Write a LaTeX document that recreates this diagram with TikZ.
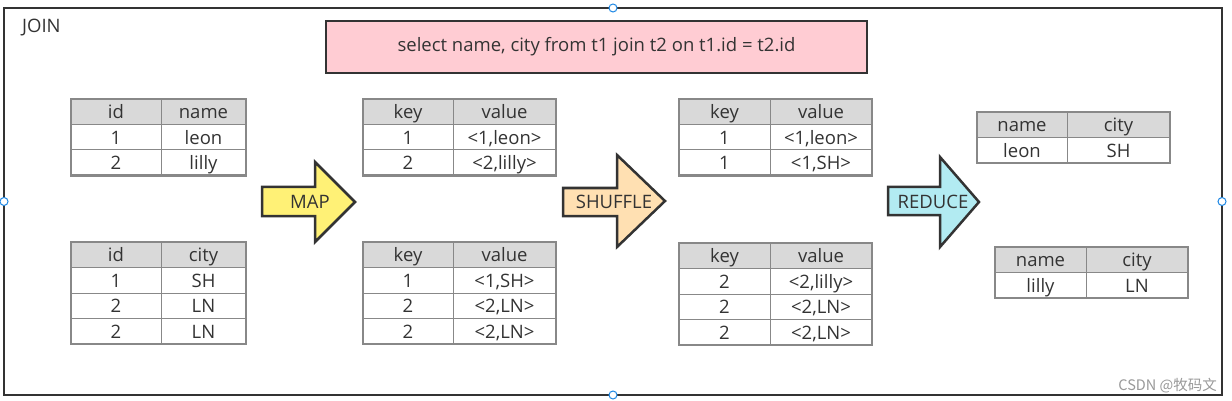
\documentclass[tikz,border=0pt]{standalone}
\usepackage{fontspec}
\setmainfont{Open Sans}
\newfontfamily\cjkfont{Noto Sans CJK SC}
\definecolor{dark}{HTML}{333333}
\definecolor{txt}{HTML}{333333}
\definecolor{tgray}{HTML}{888888}
\definecolor{hgray}{HTML}{D9D9D9}
\definecolor{sqlpink}{HTML}{FFCCD3}
\definecolor{mapfill}{HTML}{FFF176}
\definecolor{shufill}{HTML}{FFE0B2}
\definecolor{redfill}{HTML}{B2EBF2}
\definecolor{wmgray}{HTML}{999999}
\definecolor{handleblue}{HTML}{1E88E5}
\newcommand\dtable[9]{%
  \node[hcell,minimum width=#4] (#1-0-1) at (#2,#3) {#6};
  \node[hcell,minimum width=#5] (#1-0-2) at (#2+#4,#3) {#7};
  \foreach \a/\b [count=\i] in {#8} {
    \node[cell,minimum width=#4] (#1-\i-1) at (#2,#3+\i*25.5) {\a};
    \node[cell,minimum width=#5] (#1-\i-2) at (#2+#4,#3+\i*25.5) {\b};
  }
  \draw[tgray,line width=2.2pt] (#1-0-1.north west) rectangle (#1-#9-2.south east);
}
\begin{document}
\begin{tikzpicture}[x=1pt,y=-1pt,
  font=\fontsize{18.5}{22}\selectfont,
  cell/.style={draw=tgray,line width=1pt,minimum height=25.5pt,inner sep=0pt,outer sep=0pt,
    anchor=north west,text=txt,text height=16pt,text depth=2pt},
  hcell/.style={cell,fill=hgray},
  arr/.style={draw=dark,line width=2.5pt,line join=miter},
  lbl/.style={text=txt,inner sep=0pt},
  handle/.style={circle,draw=handleblue,fill=white,line width=1pt,minimum size=8pt,inner sep=0pt}]
\useasboundingbox[fill=white] (0,0) rectangle (1232,401);
\node[draw=dark,line width=2.5pt,minimum width=1218pt,minimum height=387pt,outer sep=0pt,
  anchor=north west,inner sep=0pt] (frame) at (4,8) {};
\node[anchor=north west,text=txt,inner sep=0pt] (join) at (22,19) {JOIN};
\node[draw=dark,line width=2pt,fill=sqlpink,minimum width=541pt,minimum height=52pt,outer sep=0pt,
  anchor=north west,text=txt] (sql) at (326,21) {select name, city from t1 join t2 on t1.id = t2.id};
% tables
\dtable{ta}{71}{99}{90}{85}{id}{name}{1/leon,2/lilly}{2}
\dtable{tb}{71}{242}{90}{85}{id}{city}{1/SH,2/LN,2/LN}{3}
\dtable{ma}{363}{99}{90}{103}{key}{value}{1/{<1,leon>},2/{<2,lilly>}}{2}
\dtable{mb}{363}{242}{90}{103}{key}{value}{1/{<1,SH>},2/{<2,LN>},2/{<2,LN>}}{3}
\dtable{sa}{679}{99}{91}{102}{key}{value}{1/{<1,leon>},1/{<1,SH>}}{2}
\dtable{sb}{679}{243}{91}{102}{key}{value}{2/{<2,lilly>},2/{<2,LN>},2/{<2,LN>}}{3}
\dtable{ra}{977}{112}{90}{103}{name}{city}{leon/SH}{1}
\dtable{rb}{995}{247}{91}{102}{name}{city}{lilly/LN}{1}
% arrows
\draw[arr,fill=mapfill] (262,187) -- (315,187) -- (315,162) -- (355,202) -- (315,242) -- (315,216) -- (262,216) -- cycle;
\node[lbl] (map) at (310,202) {MAP};
\draw[arr,fill=shufill] (563,188) -- (617,188) -- (617,155) -- (665,201) -- (617,247) -- (617,216) -- (563,216) -- cycle;
\node[lbl] (shuffle) at (614,202) {SHUFFLE};
\draw[arr,fill=redfill] (888,187) -- (940,187) -- (940,157) -- (979,202) -- (940,247) -- (940,215) -- (888,215) -- cycle;
\node[lbl] (reduce) at (933,202) {REDUCE};
% watermark
\node[anchor=south east,text=wmgray,inner sep=0pt,font=\cjkfont\fontsize{14.5}{16}\selectfont] (wm) at (1217,393) {CSDN @牧码文};
% handles
\node[handle] (hn) at (frame.north) {};
\node[handle] (hs) at (frame.south) {};
\node[handle] (hw) at (frame.west) {};
\node[handle] (he) at (frame.east) {};
\end{tikzpicture}
\end{document}
